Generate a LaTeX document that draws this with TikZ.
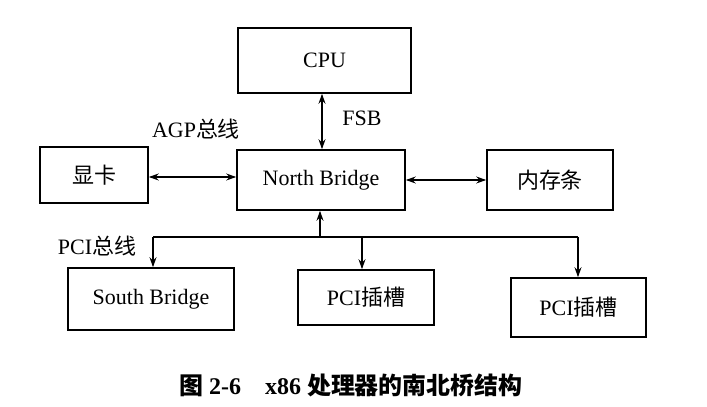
\documentclass[tikz,border=0pt]{standalone}
\usepackage{fontspec}
\setmainfont{Liberation Serif}
\newfontfamily\cjk{Noto Sans CJK SC}
\usetikzlibrary{arrows.meta}
\begin{document}
\begin{tikzpicture}[x=0.0352cm,y=-0.0352cm,
  box/.style={draw,line width=1.6pt,inner sep=0pt},
  lab/.style={font=\fontsize{22}{26}\selectfont},
  conn/.style={line width=1.2pt,-{Stealth[length=10pt,width=7pt]}},
  dconn/.style={line width=1.2pt,{Stealth[length=10pt,width=7pt]}-{Stealth[length=10pt,width=7pt]}}]
\useasboundingbox (0,0) rectangle (707,407);
\node[box,minimum width=173*0.0352cm,minimum height=65*0.0352cm,lab] (cpu) at (324.5,60.5) {CPU};
\node[box,minimum width=168*0.0352cm,minimum height=60*0.0352cm,lab] (nb) at (321,180) {North Bridge};
\node[box,minimum width=108*0.0352cm,minimum height=56*0.0352cm,lab] (gpu) at (94,175) {\cjk 显卡};
\node[box,minimum width=126*0.0352cm,minimum height=60*0.0352cm,lab] (mem) at (550,180) {\cjk 内存条};
\node[box,minimum width=166*0.0352cm,minimum height=62*0.0352cm,lab] (sb) at (151,299) {South Bridge};
\node[box,minimum width=136*0.0352cm,minimum height=55*0.0352cm,lab] (pci1) at (366,297.5) {PCI{\cjk 插槽}};
\node[box,minimum width=135*0.0352cm,minimum height=59*0.0352cm,lab] (pci2) at (578.5,307.5) {PCI{\cjk 插槽}};
\draw[dconn] (cpu.south -| 322,0) -- (nb.north -| 322,0);
\node[lab] (fsb) at (362,118) {FSB};
\node[lab] (agp) at (196,129) {AGP{\cjk 总线}};
\draw[dconn] (gpu.east |- 0,177) -- (nb.west |- 0,177);
\draw[dconn] (nb.east |- 0,180) -- (mem.west |- 0,180);
\coordinate (bl) at (153,237);
\coordinate (br) at (578,237);
\coordinate (bm) at (320,237);
\draw[line width=1.2pt] (bl) -- (br);
\draw[conn] (bm) -- (nb.south -| bm);
\draw[conn] (bl) -- (sb.north -| bl);
\draw[conn] (362,237) -- (pci1.north -| 362,0);
\draw[conn] (br) -- (pci2.north -| br);
\node[lab] (pcil) at (97,246) {PCI{\cjk 总线}};
\node[font=\fontsize{24}{28}\selectfont\bfseries] (cap) at (351,385) {{\cjk 图} 2-6\quad x86 {\cjk 处理器的南北桥结构}};
\end{tikzpicture}
\end{document}
